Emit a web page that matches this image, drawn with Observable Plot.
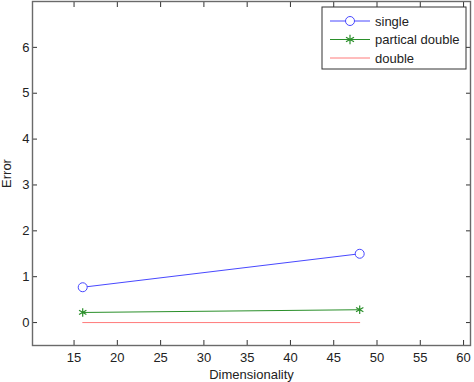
<!DOCTYPE html>
<html>
<head>
<meta charset="utf-8">
<script src="https://cdn.jsdelivr.net/npm/d3@7"></script>
<script src="https://cdn.jsdelivr.net/npm/@observablehq/plot@0.6"></script>
<style>
  html, body { margin: 0; padding: 0; background: white; }
  #chart { width: 474px; height: 382px; }
</style>
</head>
<body>
<div id="chart"></div>
<script>
const dims = [16, 48];
const singleErr = [0.77, 1.5];
const partialErr = [0.22, 0.28];
const doubleErr = [0, 0];
const seriesNames = ["single", "partical double", "double"];
const seriesColors = ["#4848ff", "#2a8f2a", "#ff7a7a"];
const xTicks = [15, 20, 25, 30, 35, 40, 45, 50, 55, 60];
const yTicks = [0, 1, 2, 3, 4, 5, 6];

const rows = [];
[singleErr, partialErr, doubleErr].forEach((vals, si) => {
  dims.forEach((d, i) => rows.push({series: seriesNames[si], x: d, y: vals[i]}));
});
const colorOf = Object.fromEntries(seriesNames.map((n, i) => [n, seriesColors[i]]));

const chart = Plot.plot({
  width: 474,
  height: 382,
  marginLeft: 32,
  marginRight: 4,
  marginTop: 1,
  marginBottom: 37,
  style: {fontFamily: "'Liberation Sans', Arial, sans-serif", fontSize: "13px", color: "#222", background: "white", overflow: "visible"},
  x: {domain: [10.2, 60.8]},
  y: {domain: [-0.5, 7]},
  marks: [
    Plot.axisX(xTicks, {anchor: "bottom", tickSize: -5, tickPadding: 12, stroke: "#333", label: "Dimensionality", labelAnchor: "center", labelOffset: 33.5, labelArrow: "none"}),
    Plot.axisX(xTicks, {anchor: "top", tickSize: -5, tickFormat: () => "", stroke: "#333", label: null}),
    Plot.axisY(yTicks, {anchor: "left", tickSize: -5, tickPadding: 8, stroke: "#333", label: "Error", labelAnchor: "center", labelOffset: 31, labelArrow: "none"}),
    Plot.axisY(yTicks, {anchor: "right", tickSize: -5, tickFormat: () => "", stroke: "#333", label: null}),
    Plot.frame({stroke: "#6a6a6a", strokeWidth: 1.4}),
    Plot.line(rows, {x: "x", y: "y", z: "series", stroke: d => colorOf[d.series], strokeWidth: 1}),
    Plot.dot(rows.filter(d => d.series === "single"), {x: "x", y: "y", r: 4.5, stroke: colorOf["single"], fill: "white", strokeWidth: 1}),
    Plot.dot(rows.filter(d => d.series === "partical double"), {x: "x", y: "y", r: 4, symbol: "asterisk", stroke: colorOf["partical double"], strokeWidth: 1.2})
  ]
});
document.getElementById("chart").appendChild(chart);

// Legend
const svg = d3.select(chart);
const lg = svg.append("g").attr("font-family", "'Liberation Sans', Arial, sans-serif").attr("font-size", 13).attr("text-anchor", "start");
lg.append("rect").attr("x", 322).attr("y", 7).attr("width", 144).attr("height", 62)
  .attr("fill", "white").attr("stroke", "#333").attr("stroke-width", 1);
const ys = [21, 39.5, 58];
seriesNames.forEach((name, i) => {
  const y = ys[i];
  lg.append("line").attr("x1", 330).attr("x2", 370).attr("y1", y).attr("y2", y)
    .attr("stroke", seriesColors[i]).attr("stroke-width", 1);
  if (i === 0) {
    lg.append("circle").attr("cx", 350).attr("cy", y).attr("r", 4.5)
      .attr("fill", "white").attr("stroke", seriesColors[i]);
  } else if (i === 1) {
    lg.append("path").attr("transform", `translate(350,${y})`)
      .attr("d", d3.symbol(d3.symbolAsterisk, 60)())
      .attr("fill", "none").attr("stroke", seriesColors[i]).attr("stroke-width", 1.2);
  }
  lg.append("text").attr("x", 375).attr("y", y).attr("dy", "0.35em")
    .attr("text-anchor", "start").attr("fill", "#222").text(name);
});
</script>
</body>
</html>
